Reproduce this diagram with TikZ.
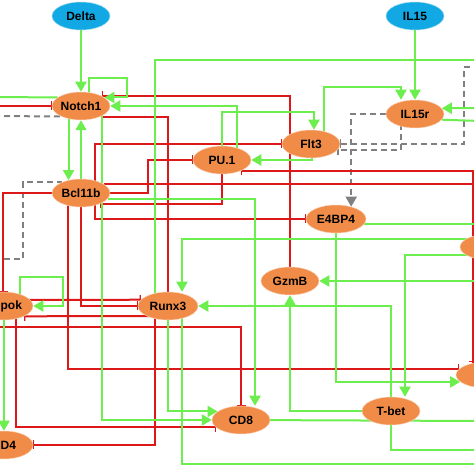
\documentclass[tikz,border=0pt]{standalone}
\usepackage{fontspec}
\setmainfont{Liberation Sans}
\usetikzlibrary{arrows.meta,shapes.geometric,backgrounds}

\definecolor{geneorange}{RGB}{240,140,72}
\definecolor{sigblue}{RGB}{18,168,228}
\definecolor{actgreen}{RGB}{108,238,78}
\definecolor{inhred}{RGB}{220,24,24}
\definecolor{unkgray}{RGB}{128,128,128}

\tikzset{
  acttip/.tip={Triangle[length=10pt,width=11pt]},
  inhbar/.tip={Bar[width=9pt,line width=1.2pt]},
  gene/.style={ellipse, fill=geneorange, draw=geneorange!40!white, line width=0.5pt,
    minimum width=58pt, minimum height=28pt, inner sep=0pt, font=\bfseries\fontsize{12}{14}\selectfont},
  signal/.style={gene, fill=sigblue, draw=sigblue!40!white},
  actline/.style={draw=actgreen, line width=2pt},
  act/.style={actline, -acttip},
  inhline/.style={draw=inhred, line width=2pt},
  inh/.style={inhline, -inhbar},
  unk/.style={draw=unkgray, line width=2pt, dash pattern=on 6pt off 4pt},
}

\begin{document}
\begin{tikzpicture}[x=1pt, y=1pt]
    \useasboundingbox (0,0) rectangle (474,474);
    % signals and genes
    \node[signal] (Delta) at (81,458) {Delta};
    \node[signal] (IL15) at (415,458) {IL15};
    \node[gene] (Notch1) at (81,368) {Notch1};
    \node[gene] (IL15r) at (415,360) {IL15r};
    \node[gene] (Flt3) at (311,330) {Flt3};
    \node[gene] (PU1) at (222,314) {PU.1};
    \node[gene] (Bcl11b) at (81,281) {Bcl11b};
    \node[gene, minimum width=60pt] (E4BP4) at (336,255) {E4BP4};
    \node[gene, minimum width=60pt, minimum height=26pt] (NodeR1) at (490,227) {};
    \node[gene] (GzmB) at (290,193) {GzmB};
    \node[gene] (Thpok) at (4,168) {Thpok};
    \node[gene, minimum width=60pt] (Runx3) at (168,168) {Runx3};
    \node[gene, minimum width=60pt, minimum height=26pt] (NodeR2) at (486,99) {};
    \node[gene] (Tbet) at (391,63) {T-bet};
    \node[gene] (CD8) at (241,54) {CD8};
    \node[gene] (CD4) at (4,29) {CD4};
    % ends outside the picture
    \coordinate (offL1) at (-6,377);
    \coordinate (offL2) at (-6,368);
    \coordinate (offL3) at (-6,358);
    \coordinate (offL4) at (-6,215);
    \coordinate (offL5) at (-6,147);
    \coordinate (offR1) at (480,414);
    \coordinate (offR2) at (480,407);
    \coordinate (offR3) at (480,366);
    \coordinate (offR4) at (480,353);
    \coordinate (offR5) at (480,53);
    \coordinate (offR6) at (480,24);
    \coordinate (offR7) at (480,10);
    \begin{scope}[on background layer]
        \fill[white] (0,0) rectangle (474,474);
        \clip (0,0) rectangle (474,474);
        % unknown
        \draw[unk] (offL3) -- (Notch1.208);
        \draw[unk] (offL4) -- ++(29,0) |- (Bcl11b.151);
        \draw[unk, -inhbar] (offR2) -- ++(-16,0) |- (Flt3.east);
        \draw[unk, -inhbar] ([xshift=-14pt]IL15r.center) |- (Flt3.-13);
        \draw[unk, -acttip] (IL15r.west) -| (E4BP4.39);
        % inhibition
        \draw[inh] (offL2) -- (Notch1.west);
        \draw[inh] (GzmB.center) |- (Notch1.26);
        \draw[inh] (Runx3.center) |- (Notch1.-28);
        \draw[inhline, inhbar-inhbar] (Flt3.west) -| ([xshift=-211pt]E4BP4.west) -- (E4BP4.west);
        \draw[inh] (Bcl11b.center) -| ([xshift=-45pt]PU1.west) -- (PU1.west);
        \draw[inh] (Bcl11b.20) -| ([xshift=-13pt]NodeR2.north);
        \draw[inh] ([xshift=-13pt]NodeR2.center) |- (PU1.-30);
        \draw[inh] (PU1.center) |- (Bcl11b.-29);
        \draw[inh] (Bcl11b.west) -| ([xshift=-1pt]Thpok.north);
        \draw[inh] (Bcl11b.center) |- (Runx3.west);
        \draw[inh] ([yshift=6pt]Thpok.center) -- (Runx3.167);
        \draw[inh] ([yshift=-10pt]Runx3.center) -- (Thpok.-27);
        \draw[inh] ([xshift=-13pt]Bcl11b.center) |- (NodeR2.167);
        \draw[inh] ([xshift=12pt]Thpok.center) |- (CD8.196);
        \draw[inh] ([xshift=-13pt]Runx3.center) |- (CD4.east);
        \draw[inh] (offL5) -| (CD8.north);
        % activation
        \draw[act] (Delta) -- (Notch1);
        \draw[act] (IL15) -- (IL15r);
        \draw[act] ([xshift=8pt]Notch1.center) |- ++(38,28) |- (Notch1.20);
        \draw[act] (Bcl11b) -- (Notch1);
        \draw[act] (Bcl11b.134 |- Notch1.center) -- (Bcl11b.134);
        \draw[act] ([xshift=15pt]PU1.center) |- (Notch1.east);
        \draw[act] (PU1.center) |- ([xshift=3pt,yshift=32pt]Flt3.center) -- ([xshift=3pt]Flt3.north);
        \draw[act] ([xshift=1pt]Flt3.center) |- (PU1.east);
        \draw[act] ([xshift=13pt]Flt3.center) |- ([xshift=-14pt,yshift=27pt]IL15r.center) -- ([xshift=-14pt]IL15r.north);
        \draw[act] (offR3) -- (IL15r.12);
        \draw[actline] (IL15r.-12) -- (offR4);
        \draw[actline] (Notch1.160) -- (offL1);
        \draw[actline] ([xshift=-13pt]Runx3.center) |- (offR1);
        \draw[act] (NodeR1.160) -| ([xshift=14pt]Runx3.north);
        \draw[act] (E4BP4.-10) -| (NodeR1.north);
        \draw[act] (NodeR1.-160) -| ([xshift=14pt]Tbet.north);
        \draw[act] (NodeR1.south) |- (GzmB.east);
        \draw[act] (Tbet.north) |- (Runx3.east);
        \draw[act] (Tbet.west) -| (GzmB.south);
        \draw[act] (E4BP4.south) |- (NodeR2.-165);
        \draw[act] (Bcl11b.-12) -| ([xshift=14pt]CD8.north);
        \draw[act] ([xshift=21pt]Notch1.center) |- (CD8.west);
        \draw[act] (Runx3.center) |- (CD8.160);
        \draw[actline] ([xshift=14pt]Runx3.center) |- (offR7);
        \draw[actline] (Tbet.center) |- (offR6);
        \draw[actline] (CD8.center) -- (offR5);
        \draw[act] ([xshift=16pt]Thpok.center) |- ++(43,29) |- (Thpok.east);
        \draw[act] (Thpok) -- (CD4);
    \end{scope}
\end{tikzpicture}
\end{document}
